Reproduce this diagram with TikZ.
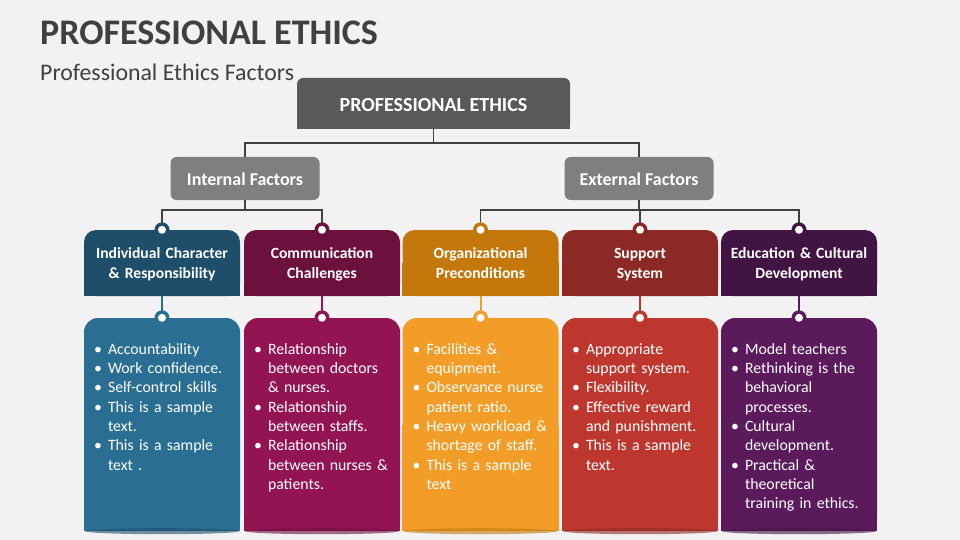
\documentclass[tikz,border=0pt]{standalone}
\usepackage{fontspec}
\setmainfont{Carlito}
\usepackage{xcolor}
\usetikzlibrary{calc}
\definecolor{pageGray}{HTML}{F2F2F2}
\definecolor{titleGray}{HTML}{404040}
\definecolor{topGray}{HTML}{595959}
\definecolor{factorGray}{HTML}{7F7F7F}
\definecolor{lineGray}{HTML}{404040}
\definecolor{tealH}{HTML}{1F4E6B}
\definecolor{tealK}{HTML}{2A6E93}
\definecolor{wineH}{HTML}{6C103E}
\definecolor{wineK}{HTML}{931453}
\definecolor{ochreH}{HTML}{C4780C}
\definecolor{ochreK}{HTML}{F29D28}
\definecolor{rustH}{HTML}{8C2924}
\definecolor{rustK}{HTML}{BE372F}
\definecolor{plumH}{HTML}{421443}
\definecolor{plumK}{HTML}{5B1A5C}
\newcommand{\ethicsitem}[1]{\par\hangindent=14pt\hangafter=1\noindent\makebox[14pt][l]{\textbullet}#1\par}

\begin{document}
\begin{tikzpicture}[x=1pt,y=-1pt,
  topbox/.style={fill=topGray,minimum width=273pt,minimum height=51pt,rounded corners=6pt},
  toptext/.style={text=white,font=\bfseries\fontsize{20}{24}\selectfont},
  factorbox/.style={fill=factorGray,minimum width=149pt,minimum height=43pt,rounded corners=6pt},
  factortext/.style={text=white,font=\bfseries\fontsize{18}{21}\selectfont},
  headbox/.style={minimum width=156pt,minimum height=66pt,rounded corners=12pt},
  headtext/.style={text=white,text width=154pt,align=center,font=\bfseries\fontsize{15.6}{19.5}\selectfont},
  cardbox/.style={minimum width=156pt,minimum height=213pt,rounded corners=14pt},
  cardtext/.style={anchor=north west,text=white,text width=145pt,font=\fontsize{15.8}{19.3}\selectfont},
  tree/.style={draw=lineGray,line width=1.6pt},
  stem/.style={line width=2pt},
  knobring/.style={circle,minimum size=15pt}]
\tikzstyle{every node}+=[inner sep=0pt]
\fill [pageGray] (0,0) rectangle (960,540);
\useasboundingbox (0,0) rectangle (960,540);

% titles
\node [anchor=base west,text=titleGray,font=\bfseries\fontsize{36}{40}\selectfont] (title) at (40,45) {PROFESSIONAL ETHICS};
\node [anchor=base west,text=titleGray,font=\fontsize{23.8}{28}\selectfont] (subtitle) at (40,81) {Professional Ethics Factors};

% top of the tree
\node [topbox] (top) at (433.5,103.5) {};
\fill [topGray] (top.west) rectangle (top.south east);
\node [toptext] (toplabel) at ($(top)+(0,1.5)$) {PROFESSIONAL ETHICS};
\node [factorbox] (intf) at (245,178.5) {};
\node [factorbox] (extf) at (639,178.5) {};
\node [factortext] (intlabel) at ($(intf)+(0,1)$) {Internal Factors};
\node [factortext] (extlabel) at ($(extf)+(0,1)$) {External Factors};
\coordinate (j0) at (433.5,143);
\coordinate (j1) at (245,210);
\coordinate (j2) at (639,210);
\draw [tree] (top.south) -- (j0) -| (intf.north);
\draw [tree] (j0) -| (extf.north);

% headers
\node [headbox,fill=tealH] (h1) at (162,263) {};
\fill [tealH] (h1.west) rectangle (h1.south east);
\node [headbox,fill=wineH] (h2) at (322,263) {};
\fill [wineH] (h2.west) rectangle (h2.south east);
\node [headbox,fill=ochreH] (h3) at (480.5,263) {};
\fill [ochreH] (h3.west) rectangle (h3.south east);
\node [headbox,fill=rustH] (h4) at (640,263) {};
\fill [rustH] (h4.west) rectangle (h4.south east);
\node [headbox,fill=plumH] (h5) at (799,263) {};
\fill [plumH] (h5.west) rectangle (h5.south east);
\node [headtext] (h1label) at ($(h1)+(0,1.5)$) {\strut Individual Character\\\strut\& Responsibility};
\node [headtext] (h2label) at ($(h2)+(0,1.5)$) {\strut Communication\\\strut Challenges};
\node [headtext] (h3label) at ($(h3)+(0,1.5)$) {\strut Organizational\\\strut Preconditions};
\node [headtext] (h4label) at ($(h4)+(0,1.5)$) {\strut Support\\\strut System};
\node [headtext] (h5label) at ($(h5)+(0,1.5)$) {\strut Education \& Cultural\\\strut Development};

% cards
\node [cardbox,fill=tealK] (k1) at (162,424.5) {};
\fill [tealK] (k1.west) rectangle (k1.south east);
\node [cardbox,fill=wineK] (k2) at (322,424.5) {};
\fill [wineK] (k2.west) rectangle (k2.south east);
\node [cardbox,fill=ochreK] (k3) at (480.5,424.5) {};
\fill [ochreK] (k3.west) rectangle (k3.south east);
\node [cardbox,fill=rustK] (k4) at (640,424.5) {};
\fill [rustK] (k4.west) rectangle (k4.south east);
\node [cardbox,fill=plumK] (k5) at (799,424.5) {};
\fill [plumK] (k5.west) rectangle (k5.south east);
\fill [tealH,opacity=.6] (k1.south) ellipse [x radius=77pt,y radius=3pt];
\fill [wineH,opacity=.6] (k2.south) ellipse [x radius=77pt,y radius=3pt];
\fill [ochreH,opacity=.6] (k3.south) ellipse [x radius=77pt,y radius=3pt];
\fill [rustH,opacity=.6] (k4.south) ellipse [x radius=77pt,y radius=3pt];
\fill [plumH,opacity=.6] (k5.south) ellipse [x radius=77pt,y radius=3pt];

% branches
\draw [tree] (intf.south) -- (j1) -| (h1.north);
\draw [tree] (j1) -| (h2.north);
\draw [tree] (extf.south) -- (j2) -| (h3.north);
\draw [tree] (j2) -- (h4.north |- j2) -- (h4.north);
\draw [tree] (j2) -| (h5.north);
\draw [stem,tealK] (h1.south) -- (k1.north);
\draw [stem,wineK] (h2.south) -- (k2.north);
\draw [stem,ochreK] (h3.south) -- (k3.north);
\draw [stem,rustK] (h4.south) -- (k4.north);
\draw [stem,plumK] (h5.south) -- (k5.north);

% knobs
\node [knobring,fill=tealH] (hd1) at (h1.north) {};
\node [knobring,fill=wineH] (hd2) at (h2.north) {};
\node [knobring,fill=ochreH] (hd3) at (h3.north) {};
\node [knobring,fill=rustH] (hd4) at (h4.north) {};
\node [knobring,fill=plumH] (hd5) at (h5.north) {};
\node [knobring,fill=tealK] (kd1) at (k1.north) {};
\node [knobring,fill=wineK] (kd2) at (k2.north) {};
\node [knobring,fill=ochreK] (kd3) at (k3.north) {};
\node [knobring,fill=rustK] (kd4) at (k4.north) {};
\node [knobring,fill=plumK] (kd5) at (k5.north) {};
\fill [white] (hd1) circle (4pt) (hd2) circle (4pt) (hd3) circle (4pt) (hd4) circle (4pt) (hd5) circle (4pt);
\fill [white] (kd1) circle (4pt) (kd2) circle (4pt) (kd3) circle (4pt) (kd4) circle (4pt) (kd5) circle (4pt);

% card texts
\node [cardtext] (t1) at ($(k1.north west)+(10,17)$) {%
\ethicsitem{Accountability}
\ethicsitem{Work confidence.}
\ethicsitem{Self-control skills}
\ethicsitem{This is a sample\newline text.}
\ethicsitem{This is a sample\newline text .}};
\node [cardtext] (t2) at ($(k2.north west)+(10,17)$) {%
\ethicsitem{Relationship\newline between doctors\newline \& nurses.}
\ethicsitem{Relationship\newline between staffs.}
\ethicsitem{Relationship\newline between nurses \&\newline patients.}};
\node [cardtext] (t3) at ($(k3.north west)+(10,17)$) {%
\ethicsitem{Facilities \&\newline equipment.}
\ethicsitem{Observance nurse\newline patient ratio.}
\ethicsitem{Heavy workload \&\newline shortage of staff.}
\ethicsitem{This is a sample\newline text}};
\node [cardtext] (t4) at ($(k4.north west)+(10,17)$) {%
\ethicsitem{Appropriate\newline support system.}
\ethicsitem{Flexibility.}
\ethicsitem{Effective reward\newline and punishment.}
\ethicsitem{This is a sample\newline text.}};
\node [cardtext] (t5) at ($(k5.north west)+(10,17)$) {%
\ethicsitem{Model teachers}
\ethicsitem{Rethinking is the\newline behavioral\newline processes.}
\ethicsitem{Cultural\newline development.}
\ethicsitem{Practical \&\newline theoretical\newline training in ethics.}};
\end{tikzpicture}
\end{document}
